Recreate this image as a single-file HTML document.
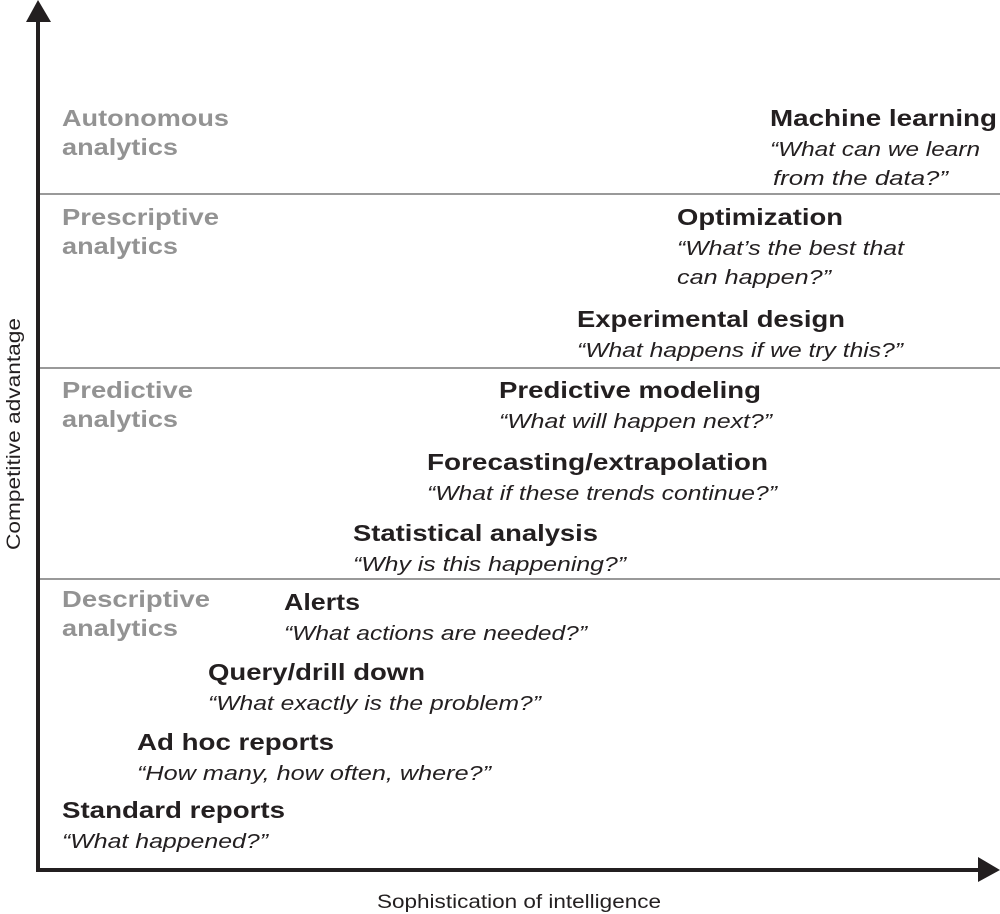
<!DOCTYPE html>
<html><head><meta charset="utf-8"><style>
html,body{margin:0;padding:0;background:#fff;}
svg{display:block;}
.b{font-family:"Liberation Sans",sans-serif;font-weight:bold;font-size:23px;fill:#231f20;}
.g{font-family:"Liberation Sans",sans-serif;font-weight:bold;font-size:23px;fill:#939393;}
.i{font-family:"Liberation Sans",sans-serif;font-style:italic;font-size:20px;fill:#231f20;}
.a{font-family:"Liberation Sans",sans-serif;font-size:19px;fill:#231f20;}
</style></head><body>
<svg width="1000" height="914" viewBox="0 0 1000 914" xmlns="http://www.w3.org/2000/svg">
<line x1="38" y1="194" x2="1000" y2="194" stroke="#999" stroke-width="2"/>
<line x1="38" y1="368" x2="1000" y2="368" stroke="#999" stroke-width="2"/>
<line x1="38" y1="579" x2="1000" y2="579" stroke="#999" stroke-width="2"/>
<line x1="38" y1="18" x2="38" y2="872" stroke="#231f20" stroke-width="4"/>
<polygon points="38,0 26,22 51,22" fill="#231f20"/>
<line x1="36" y1="870" x2="982" y2="870" stroke="#231f20" stroke-width="4"/>
<polygon points="1000,870 978,857 978,882" fill="#231f20"/>

<text class="g" x="62" y="126" textLength="167" lengthAdjust="spacingAndGlyphs">Autonomous</text>
<text class="g" x="62" y="155" textLength="116" lengthAdjust="spacingAndGlyphs">analytics</text>
<text class="g" x="62" y="225" textLength="157" lengthAdjust="spacingAndGlyphs">Prescriptive</text>
<text class="g" x="62" y="254" textLength="116" lengthAdjust="spacingAndGlyphs">analytics</text>
<text class="g" x="62" y="398" textLength="131" lengthAdjust="spacingAndGlyphs">Predictive</text>
<text class="g" x="62" y="427" textLength="116" lengthAdjust="spacingAndGlyphs">analytics</text>
<text class="g" x="62" y="607" textLength="148" lengthAdjust="spacingAndGlyphs">Descriptive</text>
<text class="g" x="62" y="636" textLength="116" lengthAdjust="spacingAndGlyphs">analytics</text>

<text class="b" x="770" y="126" textLength="227" lengthAdjust="spacingAndGlyphs">Machine learning</text>
<text class="i" x="770" y="156" textLength="210" lengthAdjust="spacingAndGlyphs">“What can we learn</text>
<text class="i" x="773" y="185" textLength="175" lengthAdjust="spacingAndGlyphs">from the data?”</text>
<text class="b" x="677" y="225" textLength="166" lengthAdjust="spacingAndGlyphs">Optimization</text>
<text class="i" x="677" y="255" textLength="227" lengthAdjust="spacingAndGlyphs">“What’s the best that</text>
<text class="i" x="677" y="284" textLength="154" lengthAdjust="spacingAndGlyphs">can happen?”</text>
<text class="b" x="577" y="327" textLength="268" lengthAdjust="spacingAndGlyphs">Experimental design</text>
<text class="i" x="577" y="357" textLength="326" lengthAdjust="spacingAndGlyphs">“What happens if we try this?”</text>
<text class="b" x="499" y="398" textLength="262" lengthAdjust="spacingAndGlyphs">Predictive modeling</text>
<text class="i" x="499" y="428" textLength="273" lengthAdjust="spacingAndGlyphs">“What will happen next?”</text>
<text class="b" x="427" y="470" textLength="341" lengthAdjust="spacingAndGlyphs">Forecasting/extrapolation</text>
<text class="i" x="427" y="500" textLength="350" lengthAdjust="spacingAndGlyphs">“What if these trends continue?”</text>
<text class="b" x="353" y="541" textLength="245" lengthAdjust="spacingAndGlyphs">Statistical analysis</text>
<text class="i" x="353" y="571" textLength="273" lengthAdjust="spacingAndGlyphs">“Why is this happening?”</text>
<text class="b" x="284" y="610" textLength="76" lengthAdjust="spacingAndGlyphs">Alerts</text>
<text class="i" x="284" y="640" textLength="303" lengthAdjust="spacingAndGlyphs">“What actions are needed?”</text>
<text class="b" x="208" y="680" textLength="217" lengthAdjust="spacingAndGlyphs">Query/drill down</text>
<text class="i" x="208" y="710" textLength="333" lengthAdjust="spacingAndGlyphs">“What exactly is the problem?”</text>
<text class="b" x="137" y="750" textLength="197" lengthAdjust="spacingAndGlyphs">Ad hoc reports</text>
<text class="i" x="137" y="780" textLength="354" lengthAdjust="spacingAndGlyphs">“How many, how often, where?”</text>
<text class="b" x="62" y="818" textLength="223" lengthAdjust="spacingAndGlyphs">Standard reports</text>
<text class="i" x="62" y="848" textLength="206" lengthAdjust="spacingAndGlyphs">“What happened?”</text>

<text class="a" x="377" y="908" textLength="284" lengthAdjust="spacingAndGlyphs">Sophistication of intelligence</text>
<text class="a" transform="translate(20,550) rotate(-90)" x="0" y="0" textLength="232" lengthAdjust="spacingAndGlyphs">Competitive advantage</text>
</svg>
</body></html>
